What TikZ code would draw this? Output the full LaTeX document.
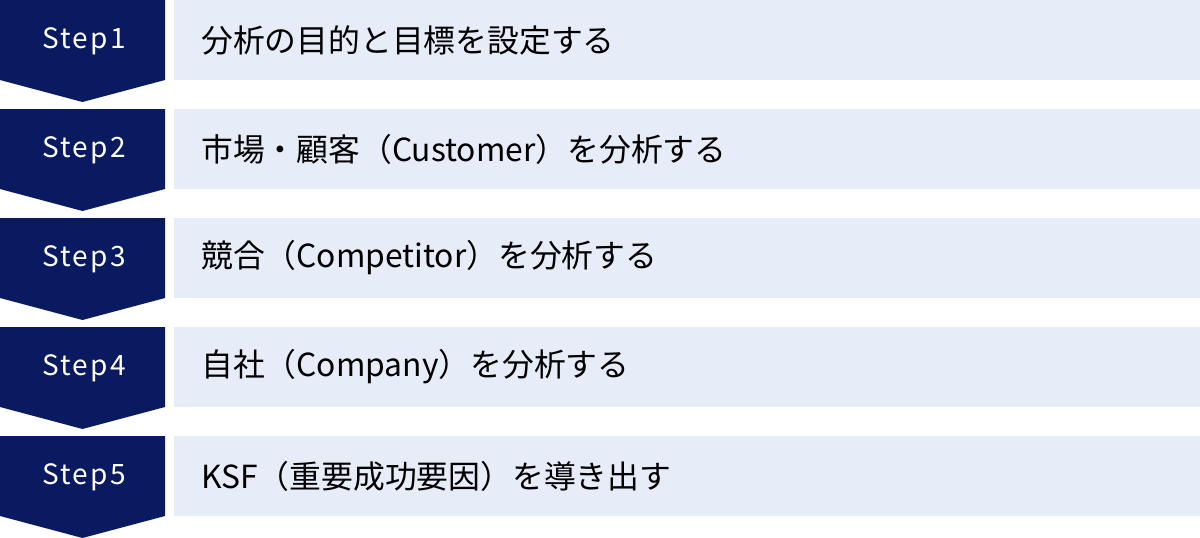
\documentclass[tikz,border=0pt]{standalone}
\usepackage{fontspec}
\setmainfont{Noto Sans CJK JP}
\definecolor{navy}{HTML}{0A1A61}
\definecolor{pale}{HTML}{E6ECF8}
\tikzset{
  chevron/.style={fill=navy},
  bar/.style={fill=pale},
  steplabel/.style={text=white, font=\fontsize{28}{32}\selectfont\addfontfeature{LetterSpace=8}, anchor=center, inner sep=0pt},
  desc/.style={text=black, font=\fontsize{31.8}{36}\selectfont, anchor=west, inner sep=0pt}
}
\begin{document}
\begin{tikzpicture}[x=1pt,y=1pt]
\useasboundingbox (0,0) rectangle (1200,-538);
\foreach \i/\d in {1/{分析の目的と目標を設定する},
                   2/{市場・顧客（Customer）を分析する},
                   3/{競合（Competitor）を分析する},
                   4/{自社（Company）を分析する},
                   5/{KSF（重要成功要因）を導き出す}} {
  \pgfmathsetmacro{\top}{-109*(\i-1)}
  \fill[chevron] (0,\top) -- (165,\top) -- (165,\top-80) -- (82.5,\top-102) -- (0,\top-80) -- cycle;
  \fill[bar] (174,\top) rectangle (1200,\top-80);
  \node[steplabel] (s\i) at (84,\top-41) {Step\i};
  \node[desc] (d\i) at (201,\top-40) {\d};
}
\end{tikzpicture}
\end{document}
